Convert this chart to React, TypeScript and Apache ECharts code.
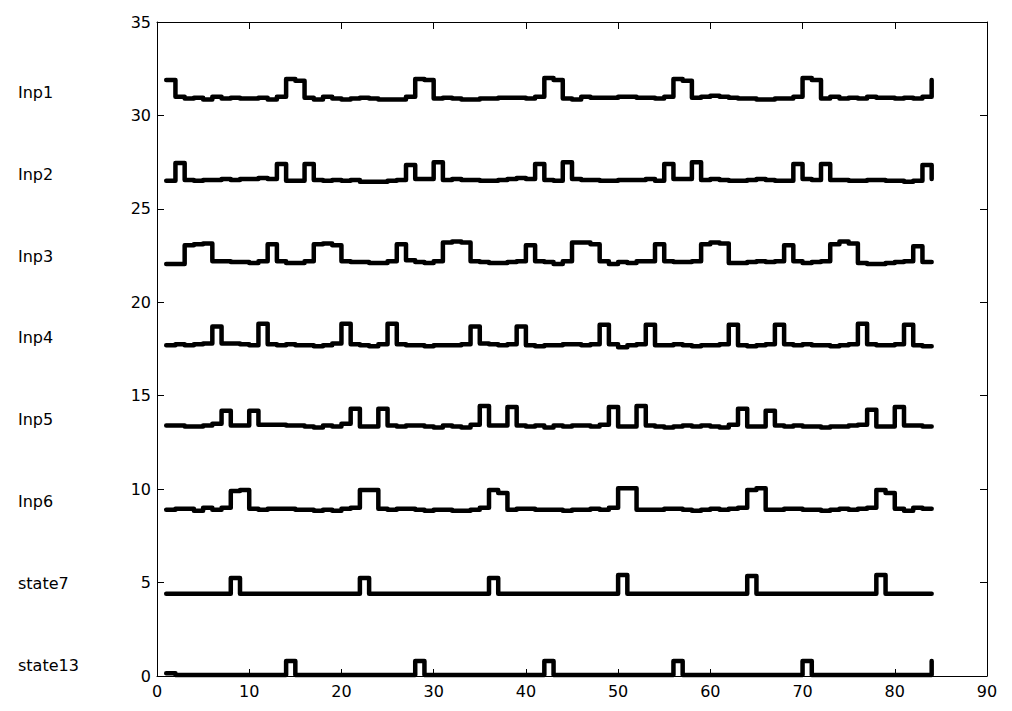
import React, { useEffect, useRef } from "react";
import * as echarts from "echarts";

const xValues: number[] = [
  1, 2, 3, 4, 5, 6, 7, 8, 9, 10, 11, 12, 13, 14, 15, 16, 17, 18, 19, 20, 21,
  22, 23, 24, 25, 26, 27, 28, 29, 30, 31, 32, 33, 34, 35, 36, 37, 38, 39, 40, 41, 42,
  43, 44, 45, 46, 47, 48, 49, 50, 51, 52, 53, 54, 55, 56, 57, 58, 59, 60, 61, 62, 63,
  64, 65, 66, 67, 68, 69, 70, 71, 72, 73, 74, 75, 76, 77, 78, 79, 80, 81, 82, 83, 84,
];

const seriesNames: string[] = ["Inp1", "Inp2", "Inp3", "Inp4", "Inp5", "Inp6", "state7", "state13"];

const inp1: number[] = [
  31.9,
  31.0, 30.9, 30.95, 30.85, 31.0, 30.9, 30.95, 30.9, 30.9, 30.95, 30.85, 31.0,
  31.95, 31.85,
  30.95, 30.85, 31.0, 30.9, 30.85, 30.9, 30.95, 30.9, 30.85, 30.85, 30.85, 31.0,
  31.95, 31.9,
  30.9, 30.95, 30.9, 30.85, 30.85, 30.9, 30.9, 30.95, 30.95, 30.95, 30.9, 31.0,
  32.0, 31.9,
  30.9, 30.85, 31.0, 30.95, 30.95, 30.95, 31.0, 31.0, 30.95, 30.95, 30.9, 31.0,
  31.95, 31.85,
  30.95, 31.0, 31.05, 31.0, 30.95, 30.9, 30.9, 30.85, 30.85, 30.9, 30.9, 31.0,
  32.0, 31.9,
  30.9, 31.0, 30.9, 30.95, 30.9, 31.0, 30.95, 30.95, 30.9, 30.95, 30.9, 31.0,
  31.9,
];

const inp2: number[] = [
  26.5,
  27.45,
  26.55, 26.5, 26.55, 26.55, 26.6, 26.55, 26.6, 26.6, 26.65, 26.6,
  27.4,
  26.5, 26.5,
  27.4,
  26.55, 26.5, 26.55, 26.5, 26.55, 26.45, 26.45, 26.45, 26.5, 26.55,
  27.35,
  26.6, 26.6,
  27.5,
  26.55, 26.6, 26.55, 26.55, 26.5, 26.5, 26.55, 26.6, 26.65, 26.6,
  27.4,
  26.55, 26.5,
  27.5,
  26.6, 26.55, 26.55, 26.5, 26.5, 26.55, 26.55, 26.55, 26.6, 26.5,
  27.4,
  26.6, 26.6,
  27.5,
  26.55, 26.6, 26.55, 26.5, 26.5, 26.55, 26.6, 26.55, 26.5, 26.5,
  27.4,
  26.6, 26.55,
  27.4,
  26.55, 26.55, 26.5, 26.5, 26.55, 26.55, 26.5, 26.5, 26.45, 26.5,
  27.35,
  26.6,
];

const inp3: number[] = [
  22.05, 22.05,
  23.05, 23.1, 23.15,
  22.2, 22.2, 22.15, 22.15, 22.1, 22.2,
  23.1,
  22.2, 22.1, 22.1, 22.2,
  23.1, 23.15, 23.05,
  22.2, 22.15, 22.15, 22.1, 22.1, 22.2,
  23.1,
  22.25, 22.15, 22.1, 22.2,
  23.2, 23.25, 23.2,
  22.2, 22.15, 22.1, 22.1, 22.15, 22.2,
  23.05,
  22.2, 22.15, 22.05, 22.2,
  23.2, 23.2, 23.1,
  22.2, 22.05, 22.15, 22.1, 22.2, 22.2,
  23.1,
  22.2, 22.15, 22.15, 22.2,
  23.1, 23.2, 23.15,
  22.1, 22.1, 22.15, 22.2, 22.15, 22.2,
  23.05,
  22.2, 22.1, 22.15, 22.2,
  23.1, 23.25, 23.15,
  22.1, 22.05, 22.05, 22.1, 22.15, 22.2,
  23.0,
  22.15, 22.15,
];

const inp4: number[] = [
  17.7, 17.75, 17.7, 17.75, 17.8,
  18.7,
  17.8, 17.8, 17.75, 17.7,
  18.85,
  17.75, 17.7, 17.75, 17.7, 17.7, 17.65, 17.7, 17.8,
  18.85,
  17.75, 17.7, 17.65, 17.75,
  18.85,
  17.75, 17.7, 17.7, 17.65, 17.7, 17.7, 17.7, 17.75,
  18.7,
  17.8, 17.75, 17.7, 17.75,
  18.7,
  17.7, 17.65, 17.7, 17.7, 17.75, 17.75, 17.7, 17.75,
  18.8,
  17.75, 17.6, 17.7, 17.75,
  18.8,
  17.7, 17.7, 17.75, 17.7, 17.65, 17.7, 17.7, 17.75,
  18.8,
  17.7, 17.65, 17.7, 17.75,
  18.8,
  17.75, 17.7, 17.75, 17.7, 17.7, 17.65, 17.7, 17.75,
  18.85,
  17.75, 17.7, 17.7, 17.75,
  18.8,
  17.7, 17.65, 17.65,
];

const inp5: number[] = [
  13.4, 13.4, 13.35, 13.35, 13.4, 13.5,
  14.2,
  13.4, 13.4,
  14.2,
  13.45, 13.45, 13.45, 13.4, 13.4, 13.35, 13.3, 13.4, 13.35, 13.5,
  14.3,
  13.35, 13.35,
  14.3,
  13.4, 13.35, 13.4, 13.4, 13.35, 13.3, 13.4, 13.35, 13.3, 13.45,
  14.45,
  13.4, 13.4,
  14.4,
  13.4, 13.35, 13.4, 13.3, 13.4, 13.35, 13.4, 13.4, 13.35, 13.45,
  14.4,
  13.35, 13.35,
  14.45,
  13.4, 13.35, 13.3, 13.35, 13.4, 13.35, 13.4, 13.35, 13.3, 13.45,
  14.3,
  13.35, 13.35,
  14.2,
  13.4, 13.35, 13.4, 13.35, 13.35, 13.3, 13.35, 13.35, 13.4, 13.45,
  14.25,
  13.35, 13.35,
  14.4,
  13.4, 13.4, 13.35, 13.35,
];

const inp6: number[] = [
  8.9, 8.95, 8.95, 8.85, 9.0, 8.9, 9.0,
  9.9, 9.95,
  8.95, 8.9, 8.95, 8.95, 8.95, 8.9, 8.9, 8.85, 8.9, 8.85, 8.95, 9.0,
  9.95, 9.95,
  8.95, 8.9, 8.95, 8.95, 8.9, 8.85, 8.9, 8.9, 8.85, 8.85, 8.9, 9.0,
  9.95, 9.8,
  8.9, 8.95, 8.95, 8.9, 8.9, 8.9, 8.85, 8.9, 8.9, 8.95, 8.9, 9.0,
  10.05, 10.05,
  8.9, 8.9, 8.9, 8.95, 8.95, 8.9, 8.85, 8.9, 8.95, 8.9, 8.95, 9.0,
  9.95, 10.05,
  8.9, 8.9, 8.95, 8.95, 8.9, 8.9, 8.85, 8.9, 8.95, 8.9, 8.95, 9.0,
  9.95, 9.8,
  8.95, 8.85, 9.0, 8.95, 8.95,
];

const state7: number[] = [
  4.4, 4.4, 4.4, 4.4, 4.4, 4.4, 4.4, 5.25, 4.4, 4.4, 4.4, 4.4, 4.4, 4.4,
  4.4, 4.4, 4.4, 4.4, 4.4, 4.4, 4.4, 5.25, 4.4, 4.4, 4.4, 4.4, 4.4, 4.4,
  4.4, 4.4, 4.4, 4.4, 4.4, 4.4, 4.4, 5.25, 4.4, 4.4, 4.4, 4.4, 4.4, 4.4,
  4.4, 4.4, 4.4, 4.4, 4.4, 4.4, 4.4, 5.4, 4.4, 4.4, 4.4, 4.4, 4.4, 4.4,
  4.4, 4.4, 4.4, 4.4, 4.4, 4.4, 4.4, 5.35, 4.4, 4.4, 4.4, 4.4, 4.4, 4.4,
  4.4, 4.4, 4.4, 4.4, 4.4, 4.4, 4.4, 5.4, 4.4, 4.4, 4.4, 4.4, 4.4, 4.4,
];

const state13: number[] = [
  0.15, 0.05, 0.05, 0.05, 0.05, 0.05, 0.05, 0.05, 0.05, 0.05, 0.05, 0.05, 0.05, 0.8,
  0.05, 0.05, 0.05, 0.05, 0.05, 0.05, 0.05, 0.05, 0.05, 0.05, 0.05, 0.05, 0.05, 0.8,
  0.05, 0.05, 0.05, 0.05, 0.05, 0.05, 0.05, 0.05, 0.05, 0.05, 0.05, 0.05, 0.05, 0.8,
  0.05, 0.05, 0.05, 0.05, 0.05, 0.05, 0.05, 0.05, 0.05, 0.05, 0.05, 0.05, 0.05, 0.8,
  0.05, 0.05, 0.05, 0.05, 0.05, 0.05, 0.05, 0.05, 0.05, 0.05, 0.05, 0.05, 0.05, 0.8,
  0.05, 0.05, 0.05, 0.05, 0.05, 0.05, 0.05, 0.05, 0.05, 0.05, 0.05, 0.05, 0.05, 0.8,
];

const allSeries: number[][] = [inp1, inp2, inp3, inp4, inp5, inp6, state7, state13];

// pixel rows of the name labels on the left
const labelRows: number[] = [92, 174, 256, 337, 419, 501, 583, 665];

const FONT = "DejaVu Sans";

export default function App() {
  const ref = useRef<HTMLDivElement>(null);

  useEffect(() => {
    if (!ref.current) return;
    const chart = echarts.init(ref.current, undefined, { renderer: "svg" });

    const axisCommon = {
      axisLine: { show: true, onZero: false, lineStyle: { color: "#000", width: 1 } },
      axisTick: { show: true, inside: true, length: 7, lineStyle: { color: "#000", width: 1 } },
      splitLine: { show: false },
    };

    chart.setOption({
      animation: false,
      backgroundColor: "#fff",
      grid: { left: 157, right: 25, top: 22, bottom: 35, containLabel: false },
      xAxis: [
        {
          type: "value",
          min: 0,
          max: 90,
          interval: 10,
          position: "bottom",
          ...axisCommon,
          axisLabel: { color: "#000", fontSize: 16, fontFamily: FONT, margin: 7 },
        },
        {
          type: "value",
          min: 0,
          max: 90,
          interval: 10,
          position: "top",
          ...axisCommon,
          axisLabel: { show: false },
        },
      ],
      yAxis: [
        {
          type: "value",
          min: 0,
          max: 35,
          interval: 5,
          position: "left",
          ...axisCommon,
          axisLabel: { color: "#000", fontSize: 16, fontFamily: FONT, margin: 6 },
        },
        {
          type: "value",
          min: 0,
          max: 35,
          interval: 5,
          position: "right",
          ...axisCommon,
          axisLabel: { show: false },
        },
      ],
      graphic: seriesNames.map((name, i) => ({
        type: "text",
        x: 18,
        y: labelRows[i],
        style: {
          text: name,
          fill: "#000",
          font: `16px '${FONT}'`,
          verticalAlign: "middle",
          align: "left",
        },
      })),
      series: allSeries.map((vals, i) => ({
        name: seriesNames[i],
        type: "line",
        step: "end",
        showSymbol: false,
        symbol: "none",
        clip: false,
        xAxisIndex: 0,
        yAxisIndex: 0,
        data: vals.map((v, k) => [xValues[k], v]),
        lineStyle: { color: "#000", width: 4.5, join: "round", cap: "round" },
      })),
    });

    return () => chart.dispose();
  }, []);

  return (
    <div
      ref={ref}
      style={{ position: "absolute", left: 0, top: 0, width: 1012, height: 711 }}
    />
  );
}
